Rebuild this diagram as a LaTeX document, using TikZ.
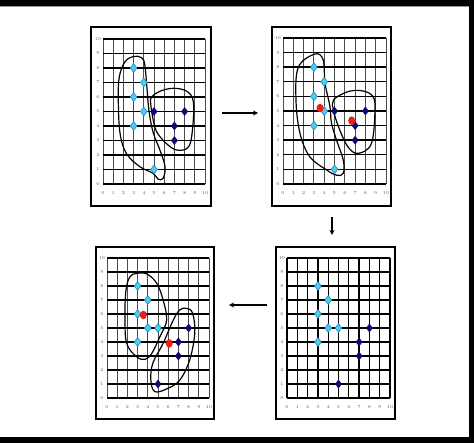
\documentclass[tikz,border=0pt]{standalone}
\usetikzlibrary{shapes.geometric,arrows.meta}
\definecolor{cyfill}{RGB}{80,205,235}
\definecolor{cyedge}{RGB}{20,140,195}
\definecolor{navy}{RGB}{10,10,110}
\definecolor{redpt}{RGB}{235,30,30}
\definecolor{labgray}{RGB}{90,90,90}
\tikzset{
 frame/.style={draw=black, line width=1.5pt},
 hline/.style={line width=1.4pt, black},
 vthin/.style={line width=0.9pt, black!70},
 vthick/.style={line width=1.3pt, black},
 axlab/.style={font=\fontsize{4.5}{5}\selectfont, text=labgray, inner sep=0pt},
 cyd/.style={diamond, fill=cyfill, draw=cyedge, line width=0.6pt, minimum width=7pt, minimum height=9pt, inner sep=0pt},
 nvd/.style={diamond, fill=navy, minimum width=7pt, minimum height=9pt, inner sep=0pt},
 rdot/.style={ellipse, fill=redpt, minimum width=7pt, minimum height=8.5pt, inner sep=0pt},
 blob/.style={line width=1.2pt, black},
 flow/.style={line width=1.1pt, -{Stealth[length=5pt,width=5pt]}},
}
\newcommand\gridpanel[2]{%
 \foreach \i in {0,...,10}{
   \draw[#2] (\i,0) -- (\i,10);
 }
 \foreach \i in {0,...,10}{
   \draw[hline] (0,\i) -- (10,\i);
   \node[axlab] (#1y\i) at (-0.5,\i) {\i};
   \node[axlab] (#1x\i) at (\i,-0.63) {\i};
 }}
\begin{document}
\begin{tikzpicture}[x=1pt,y=1pt]
\useasboundingbox (0,0) rectangle (474,443);
\fill[white] (0,0) rectangle (474,443);
\fill[black] (0,437) rectangle (474,443);
\fill[black] (469,0) rectangle (474,443);
\fill[black] (0,0) rectangle (474,6);
\draw[black!40, line width=0.6pt] (0,436.5) -- (469,436.5);

% frames
\draw[frame] (91,237) rectangle (211,416);
\draw[frame] (272,237) rectangle (391,416);
\draw[frame] (276,24) rectangle (395,196);
\draw[frame] (96,24) rectangle (214,196);

% panel 1
\begin{scope}[shift={(103,259)}, x=10.2pt, y=14.5pt]
 \gridpanel{pa}{vthin}
 \draw[blob] plot[smooth cycle, tension=0.6] coordinates {(3,8.8) (3.8,8.7) (4.1,8.2) (4.3,6.7) (4.5,5.1) (4.9,3.6) (5.6,2.3) (6.08,1.2) (5.9,0.39) (5.4,0.34) (4.9,0.74) (3.6,1.2) (2.3,2.1) (1.67,3.5) (1.5,5.8) (1.6,7.4) (2.16,8.43)};
 \draw[blob] plot[smooth cycle, tension=0.6] coordinates {(4.77,6.0) (5.6,6.4) (6.9,6.6) (8.2,6.4) (8.85,5.7) (8.8,3.95) (8.4,2.57) (7.24,2.34) (6.2,2.8) (5.26,3.6) (4.9,4.5) (4.67,5.6)};
 \node[cyd] (pa1) at (3,8) {};
 \node[cyd] (pa2) at (4,7) {};
 \node[cyd] (pa3) at (3,6) {};
 \node[cyd] (pa4) at (4,5) {};
 \node[cyd] (pa5) at (3,4) {};
 \node[cyd] (pa6) at (5,1) {};
 \node[nvd] (pa7) at (5,5) {};
 \node[nvd] (pa8) at (8,5) {};
 \node[nvd] (pa9) at (7,4) {};
 \node[nvd] (pa10) at (7,3) {};
\end{scope}

% panel 2
\begin{scope}[shift={(283,259)}, x=10.3pt, y=14.6pt]
 \gridpanel{pb}{vthin}
 \draw[blob] plot[smooth cycle, tension=0.6] coordinates {(3.1,8.9) (3.9,8.5) (4.08,6.9) (4.56,5.3) (4.7,4.2) (5.2,3.0) (5.85,1.64) (5.85,0.73) (5.2,0.6) (4.24,0.96) (2.6,1.87) (1.65,3.47) (1.26,5.75) (1.49,8.0)};
 \draw[blob] plot[smooth cycle, tension=0.6] coordinates {(4.9,5.75) (6.2,6.3) (7.5,6.4) (8.6,6.1) (8.93,5.3) (8.6,2.8) (7.3,2.1) (6.3,2.55) (5.4,3.9) (4.9,5.07)};
 \node[cyd] (pb1) at (3,8) {};
 \node[cyd] (pb2) at (4,7) {};
 \node[cyd] (pb3) at (3,6) {};
 \node[cyd] (pb4) at (4,5) {};
 \node[cyd] (pb5) at (3,4) {};
 \node[cyd] (pb6) at (5,1) {};
 \node[nvd] (pb7) at (5,5) {};
 \node[nvd] (pb8) at (8,5) {};
 \node[nvd] (pb9) at (7,4) {};
 \node[nvd] (pb10) at (7,3) {};
 \node[rdot] (pbr1) at (3.6,5.2) {};
 \node[rdot] (pbr2) at (6.67,4.34) {};
\end{scope}

% panel 3
\begin{scope}[shift={(287,45)}, x=10.3pt, y=14pt]
 \gridpanel{pc}{vthick}
 \node[cyd] (pc1) at (3,8) {};
 \node[cyd] (pc2) at (4,7) {};
 \node[cyd] (pc3) at (3,6) {};
 \node[cyd] (pc4) at (4,5) {};
 \node[cyd] (pc5) at (5,5) {};
 \node[cyd] (pc6) at (3,4) {};
 \node[nvd] (pc7) at (8,5) {};
 \node[nvd] (pc8) at (7,4) {};
 \node[nvd] (pc9) at (7,3) {};
 \node[nvd] (pc10) at (5,1) {};
\end{scope}

% panel 4
\begin{scope}[shift={(107,45)}, x=10.2pt, y=14pt]
 \gridpanel{pd}{vthin}
 \draw[blob] plot[smooth cycle, tension=0.6] coordinates {(2.9,8.9) (3.9,8.86) (4.87,8.2) (5.5,7.0) (5.85,5.57) (5.2,4.4) (4.4,3.2) (3.73,2.76) (2.9,2.95) (1.93,3.9) (1.76,5.8) (1.86,7.7) (2.25,8.66)};
 \draw[blob] plot[smooth cycle, tension=0.6] coordinates {(7.8,6.4) (8.4,6.05) (8.6,4.6) (8.1,2.7) (7.15,1.29) (6.0,0.7) (4.7,0.45) (4.3,1.29) (4.5,2.5) (5.5,3.9) (6.5,5.57) (7.15,6.3)};
 \node[cyd] (pd1) at (3,8) {};
 \node[cyd] (pd2) at (4,7) {};
 \node[cyd] (pd3) at (3,6) {};
 \node[cyd] (pd4) at (4,5) {};
 \node[cyd] (pd5) at (5,5) {};
 \node[cyd] (pd6) at (3,4) {};
 \node[nvd] (pd7) at (8,5) {};
 \node[nvd] (pd8) at (7,4) {};
 \node[nvd] (pd9) at (7,3) {};
 \node[nvd] (pd10) at (5,1) {};
 \node[rdot] (pdr1) at (3.56,5.93) {};
 \node[rdot] (pdr2) at (6.1,3.9) {};
\end{scope}

% arrows
\coordinate (a1s) at (222,330);
\coordinate (a1e) at (258,330);
\coordinate (a2s) at (332,226);
\coordinate (a2e) at (332,208);
\coordinate (a3s) at (267,138);
\coordinate (a3e) at (229,138);
\draw[flow] (a1s) -- (a1e);
\draw[flow] (a2s) -- (a2e);
\draw[flow] (a3s) -- (a3e);
\end{tikzpicture}
\end{document}
